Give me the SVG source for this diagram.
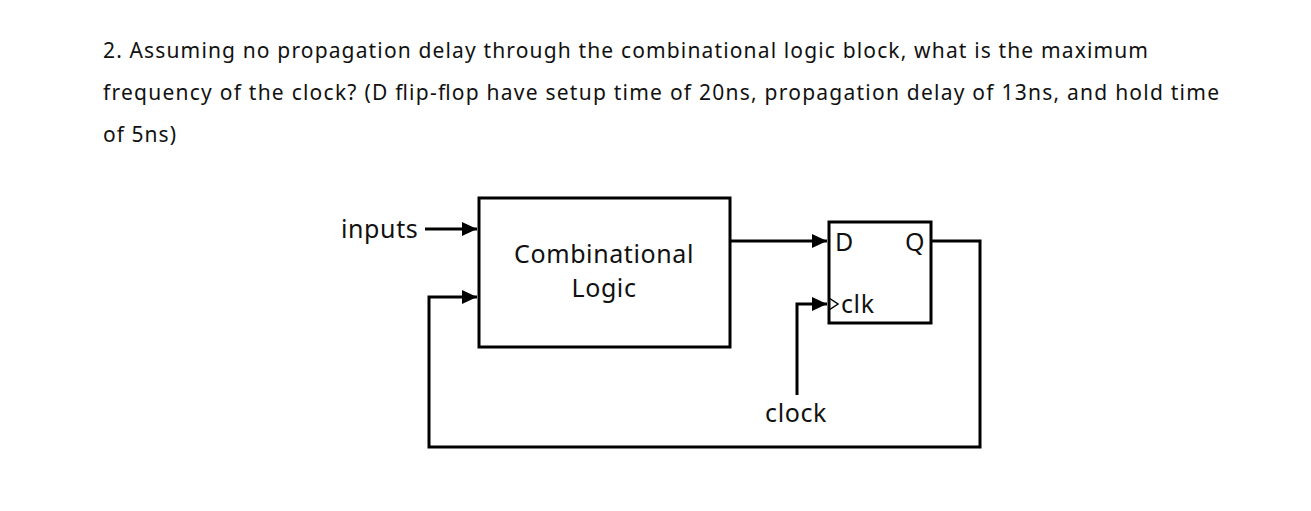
<svg xmlns="http://www.w3.org/2000/svg" width="1311" height="511" viewBox="0 0 1311 511">
<defs>
<style>
text{font-family:"Noto Sans","Open Sans",sans-serif;fill:#111}
.q{font-size:21px}
.l{font-size:25px;letter-spacing:0.6px}
.b{fill:none;stroke:#000;stroke-width:3}
.w{fill:none;stroke:#000;stroke-width:3}
</style>
<marker id="a" markerWidth="16" markerHeight="16" refX="15" refY="7" orient="auto" markerUnits="userSpaceOnUse"><path d="M0,0 L15,7 L0,14 Z" fill="#000"/></marker>
</defs>
<rect width="1311" height="511" fill="#fff"/>
<g id="question">
<text class="q" x="103" y="58" textLength="1045" lengthAdjust="spacing">2. Assuming no propagation delay through the combinational logic block, what is the maximum</text>
<text class="q" x="103" y="100" textLength="1116" lengthAdjust="spacing">frequency of the clock? (D flip-flop have setup time of 20ns, propagation delay of 13ns, and hold time</text>
<text class="q" x="103" y="142" textLength="73" lengthAdjust="spacing">of 5ns)</text>
</g>
<g id="comb">
<rect class="b" x="479" y="198" width="251" height="149"/>
<text class="l" x="604" y="263" text-anchor="middle">Combinational</text>
<text class="l" x="604" y="297" text-anchor="middle">Logic</text>
</g>
<g id="dff">
<rect class="b" x="829" y="222" width="102" height="101"/>
<text class="l" x="835" y="251">D</text>
<text class="l" x="905" y="251">Q</text>
<path d="M829,298 L838,304 L829,310" fill="none" stroke="#000" stroke-width="1.5"/>
<text class="l" x="841" y="313">clk</text>
</g>
<g id="labels">
<text class="l" x="341" y="238">inputs</text>
<text class="l" x="796" y="422" text-anchor="middle">clock</text>
</g>
<g id="connectors">
<line class="w" x1="425" y1="229" x2="477" y2="229" marker-end="url(#a)"/>
<polyline class="w" points="931,241 980,241 980,447 429,447 429,297 477,297" marker-end="url(#a)"/>
<line class="w" x1="730" y1="241" x2="827" y2="241" marker-end="url(#a)"/>
<polyline class="w" points="797,395 797,304 827,304" marker-end="url(#a)"/>
</g>
</svg>
